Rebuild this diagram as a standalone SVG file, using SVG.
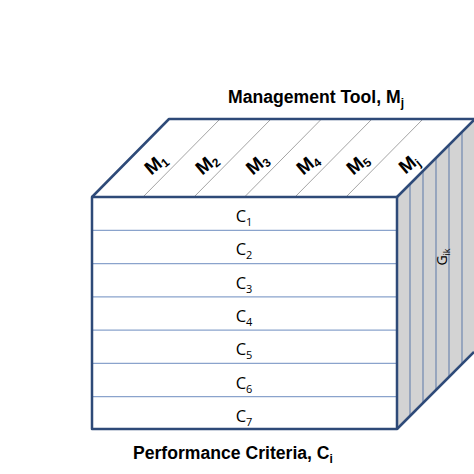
<svg xmlns="http://www.w3.org/2000/svg" width="474" height="474" viewBox="0 0 474 474">
<style>
.edge{fill:none;stroke:#2e4a78;stroke-width:2.5;stroke-linejoin:round}
.row{stroke:#8aa3cc;stroke-width:1.2}
.vl{stroke:#7088b0;stroke-width:1.2}
.tl{stroke:#9a9a9a;stroke-width:0.9}
.lab{font-family:"Liberation Sans",Arial,sans-serif;font-weight:bold;font-size:17.6px;fill:#000}
.c{font-family:"Open Sans","Liberation Sans",sans-serif;font-size:16.5px;fill:#000;text-anchor:middle}
.m{font-family:"Liberation Sans",Arial,sans-serif;font-weight:bold;font-size:19px;fill:#000;text-anchor:middle}
</style>
<rect width="474" height="474" fill="#fff"/>
<g id="right-face">
<polygon points="397,197 474,120 474,352 397,429" fill="#d3d3d3"/>
<g class="vl">
<line x1="410" y1="184" x2="410" y2="416"/>
<line x1="423" y1="171" x2="423" y2="403"/>
<line x1="436" y1="158" x2="436" y2="390"/>
<line x1="449" y1="145" x2="449" y2="377"/>
<line x1="462" y1="132" x2="462" y2="364"/>
</g>
<text x="447" y="257" transform="rotate(-90 447 257)" font-family="Open Sans,Liberation Sans,sans-serif" font-size="14" text-anchor="middle">G<tspan font-size="9" dy="3">ik</tspan></text>
</g>
<g id="top-face">
<polygon points="92,197 169,119 474,119 397,197" fill="#fff"/>
<g class="tl">
<line x1="143" y1="197" x2="220" y2="119"/>
<line x1="194" y1="197" x2="271" y2="119"/>
<line x1="244.5" y1="197" x2="321.5" y2="119"/>
<line x1="295" y1="197" x2="372" y2="119"/>
<line x1="346" y1="197" x2="423" y2="119"/>
</g>
<text class="m" x="156" y="170" transform="rotate(-40 156 164)">M<tspan font-size="12" dy="3">1</tspan></text>
<text class="m" x="207" y="170" transform="rotate(-40 207 164)">M<tspan font-size="12" dy="3">2</tspan></text>
<text class="m" x="257.5" y="170" transform="rotate(-40 257.5 164)">M<tspan font-size="12" dy="3">3</tspan></text>
<text class="m" x="308" y="170" transform="rotate(-40 308 164)">M<tspan font-size="12" dy="3">4</tspan></text>
<text class="m" x="358" y="170" transform="rotate(-40 358 164)">M<tspan font-size="12" dy="3">5</tspan></text>
<text class="m" x="409" y="170" transform="rotate(-40 409 164)">M<tspan font-size="12" dy="3">j</tspan></text>
</g>
<g id="front-face">
<rect x="92" y="197" width="305" height="232" fill="#fff"/>
<g class="row">
<line x1="92" y1="230.3" x2="397" y2="230.3"/>
<line x1="92" y1="263.6" x2="397" y2="263.6"/>
<line x1="92" y1="296.9" x2="397" y2="296.9"/>
<line x1="92" y1="330.1" x2="397" y2="330.1"/>
<line x1="92" y1="363.4" x2="397" y2="363.4"/>
<line x1="92" y1="396.7" x2="397" y2="396.7"/>
</g>
<text class="c" x="244" y="222">C<tspan font-size="11" dy="4">1</tspan></text>
<text class="c" x="244" y="255.3">C<tspan font-size="11" dy="4">2</tspan></text>
<text class="c" x="244" y="288.6">C<tspan font-size="11" dy="4">3</tspan></text>
<text class="c" x="244" y="321.9">C<tspan font-size="11" dy="4">4</tspan></text>
<text class="c" x="244" y="355.2">C<tspan font-size="11" dy="4">5</tspan></text>
<text class="c" x="244" y="388.5">C<tspan font-size="11" dy="4">6</tspan></text>
<text class="c" x="244" y="421.8">C<tspan font-size="11" dy="4">7</tspan></text>
</g>
<g id="outline">
<polyline class="edge" points="92,197 169,119 474,119"/>
<line class="edge" x1="397" y1="197" x2="474" y2="120"/>
<line class="edge" x1="397" y1="429" x2="474" y2="352"/>
<rect class="edge" x="92" y="197" width="305" height="232"/>
</g>
<text id="title" class="lab" x="228" y="103">Management Tool, M<tspan font-size="12" dy="4">j</tspan></text>
<text id="bottom-label" class="lab" x="133" y="459">Performance Criteria, C<tspan font-size="12" dy="4">i</tspan></text>
</svg>
